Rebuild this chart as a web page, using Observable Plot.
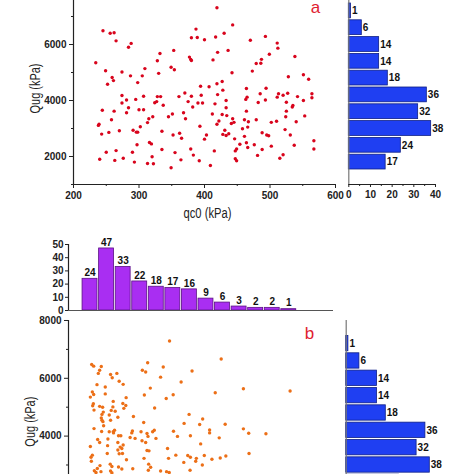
<!DOCTYPE html>
<html>
<head>
<meta charset="utf-8">
<script src="https://cdn.jsdelivr.net/npm/d3@7"></script>
<script src="https://cdn.jsdelivr.net/npm/@observablehq/plot@0.6"></script>
<style>
  html, body { margin: 0; padding: 0; background: #fff; }
  #fig { position: relative; width: 474px; height: 474px; overflow: hidden; background: #fff; }
  #fig > div { position: absolute; }
</style>
</head>
<body>
<div id="fig"></div>
<script>
// ---- Panel a: measured qc0 vs Qug (kPa) ----
const qc0A = [
  245,256,262,265,288,284,387,380,389,400,353,332,328,377,379,380,234,249,274,309,
  349,354,330,287,259,261,305,298,252,394,407,370,
  419,443,417,430,420,436,413,470,493,511,512,499,487,479,486,538,442,473,528,551,
  559,419,427,428,464,494,
  274,307,328,333,380,395,274,281,295,284,281,324,327,337,300,307,244,262,361,375,
  382,390,397,368,351,345,321,315,313,258,239,238,371,393,302,291,296,298,270,254,
  243,335,352,362,365,403,400,297,316,319,335,355,379,383,392,364,250,265,290,320,
  240,263,276,293,313,322,349,409,
  420,465,463,485,513,520,527,511,493,482,542,564,564,551,525,535,534,416,433,433,
  412,427,434,464,525,524,553,443,441,445,422,419,461,467,479,502,510,540,466,458,
  431,428,433,437,488,495,498,523,531,461,446,464,454,476,567,466,502,537,449,447,
  488,567,415,481,520,515,447,449
];
const qugA = [
  6490,6400,6420,6130,6040,5900,6550,6240,6250,6170,5790,5680,5420,5550,5470,5430,5350,5060,5020,5140,
  5190,5100,4970,4880,4820,4710,4880,4640,4580,4510,4490,4270,
  7310,6700,6270,6400,5720,5790,5450,6150,6290,6050,5870,5650,5470,5320,5330,5570,4990,5050,4850,4920,
  4760,4600,4680,4370,4430,4440,
  4180,4150,4140,4140,4150,4190,3910,4020,4040,3740,3560,3920,3960,3830,3670,3670,3650,3620,4140,3960,
  3770,3910,3910,3560,3520,3420,3420,3350,3210,3310,3150,3110,3350,3080,3060,2940,2870,2870,2920,2860,
  2800,2900,2770,2830,2650,2770,2620,2420,2500,2450,2250,2140,2270,2050,1850,1880,2150,2210,2150,1990,
  1900,1860,1940,1800,1750,1740,1600,1680,
  4210,4120,4040,4240,4240,4190,4260,4120,4020,3930,4140,4240,4100,4000,3940,3820,3770,3880,4000,3740,
  3520,3500,3460,3620,3620,3420,3450,3350,3180,3220,3270,3150,3310,3240,3310,3220,3260,3240,3050,2990,
  2940,2790,2750,2810,2850,2770,2740,2960,2770,2720,2630,2490,2440,2420,2560,2320,2370,2400,2270,2200,
  2250,2270,2200,2040,2060,1940,1920,1850
];

// ---- Panel b: qc0 vs Qug (kPa) ----
const qc0B = [
  465,621,230,236,259,399,383,393,446,533,254,250,287,292,306,313,325,438,500,246,
  271,407,232,236,271,226,389,455,476,603,688,829,295,294,334,333,235,233,237,254,
  263,420,289,301,327,324,283,265,261,259,264,266,261,287,309,356,387,524,509,556,
  565,633,237,260,283,295,299,296,311,318,353,351,346,361,379,397,400,414,419,424,
  477,489,528,586,586,615,688,704,756,248,254,279,278,226,309,316,321,325,309,313,
  323,382,393,397,403,388,459,484,520,528,546,544,559,570,593,618,635,705,232,228,
  229,277,335,286,291,255,247,238,243,258,311,321,287,291,354,402,408,401,438,456,
  464,508,527,564,462
];
const qugB = [
  7290,6670,6480,6420,6410,6540,6280,6220,6390,6250,6280,6170,6130,6020,6170,5900,5790,6040,5870,5780,
  5700,5660,5530,5440,5460,5350,5420,5300,5430,5500,5640,5560,5200,5010,5330,5060,5120,5050,4900,5030,
  5000,4970,4890,4860,4960,5130,4730,4830,4750,4630,4500,4360,4550,4550,4650,4680,4470,4750,4440,4400,
  4590,4410,4260,4160,4150,4150,4200,4110,4010,4010,4180,4110,3950,3920,4150,4090,3990,4150,4200,3920,
  4170,3990,4010,4210,4110,3940,4250,4100,4080,3880,3780,3900,3670,3640,3780,3620,3570,3690,3520,3390,
  3400,3840,3780,3500,3490,3230,3570,3340,3330,3270,3230,3130,3730,3330,3200,3240,3310,3400,3340,3270,
  3130,3400,3180,3030,2950,2980,2880,2800,2740,2770,2930,2860,2790,2730,2870,3030,2920,2820,2790,2770,
  2740,3090,2820,3000,3230
];

// ---- Histograms (counts per bin) ----
const qugEdges  = [1500, 2100, 2700, 3300, 3900, 4500, 5100, 5700, 6300, 6900, 7500];
const qugCounts = [17, 24, 38, 32, 36, 18, 14, 14, 6, 1];
const qcEdges   = [200, 250, 300, 350, 400, 450, 500, 550, 600, 650, 700, 750, 800, 850];
const qcCounts  = [24, 47, 33, 22, 18, 17, 16, 9, 6, 3, 2, 2, 1];

// ---- Axis ticks ----
const qcTicksA    = [200, 300, 400, 500, 600];
const qcMinorA    = [250, 350, 450, 550];
const qugTicks    = [2000, 4000, 6000, 8000];
const qugMinor    = [1000, 3000, 5000, 7000];
const countTicks  = [0, 10, 20, 30, 40];
const countMinor  = [5, 15, 25, 35];
const histTicks   = [0, 10, 20, 30, 40, 50];

const axisLabelX = "qc0 (kPa)";
const axisLabelY = "Qug (kPa)";

// ---- Tables built from the arrays ----
const ptsA = qc0A.map((q, i) => ({qc: q, qug: qugA[i]}));
const ptsB = qc0B.map((q, i) => ({qc: q, qug: qugB[i]}));
const qugBins = qugCounts.map((c, i) => ({lo: qugEdges[i], hi: qugEdges[i + 1], mid: (qugEdges[i] + qugEdges[i + 1]) / 2, count: c}));
const qcBins  = qcCounts.map((c, i) => ({lo: qcEdges[i], hi: qcEdges[i + 1], mid: (qcEdges[i] + qcEdges[i + 1]) / 2, count: c}));

// ---- Styling ----
const SANS   = '"Liberation Sans", Arial, Helvetica, sans-serif';
const AXIS   = "#222";
const RED    = "#d8041c";
const ORANGE = "#ec6f17";
const BLUE   = "#1f3ff2";
const BLUE_EDGE = "#0e1f86";
const PURPLE = "#a92ef2";
const PURPLE_EDGE = "#5b1284";
const TAG    = "#e01c30";
const plain  = d => String(d);

const baseStyle = {fontFamily: SANS, background: "transparent", overflow: "visible"};
const fig = document.getElementById("fig");
function place(svg, left, top) {
  const d = document.createElement("div");
  d.style.left = left + "px";
  d.style.top = top + "px";
  d.append(svg);
  fig.append(d);
  return svg;
}
// axis titles use a condensed face: squeeze them to their measured length
function condense(svg, text, length) {
  d3.select(svg).selectAll("text").filter(function () { return this.textContent === text; })
    .attr("textLength", length).attr("lengthAdjust", "spacingAndGlyphs");
}
const bold = {fontWeight: "bold", fontSize: 10, color: AXIS, label: null};
const titleStyle = {fontSize: 14, fill: "#222", textAnchor: "middle", lineAnchor: "middle"};

// Panel a scatter
const svgA = place(Plot.plot({
  width: 345, height: 261,
  marginLeft: 73, marginRight: 10, marginTop: 20, marginBottom: 45,
  style: baseStyle,
  x: {domain: [200, 600], axis: null},
  y: {domain: [1000, 8000], axis: null},
  marks: [
    Plot.ruleX([200], {stroke: AXIS, strokeWidth: 1.2}),
    Plot.ruleY([1000], {stroke: AXIS, strokeWidth: 1.2}),
    Plot.axisX({...bold, ticks: qcTicksA, tickSize: 4, tickPadding: 3, tickFormat: plain}),
    Plot.axisX({...bold, ticks: qcMinorA, tickSize: 2, tickFormat: () => ""}),
    Plot.axisY({...bold, ticks: qugTicks, tickSize: 4, tickPadding: 3, tickFormat: plain}),
    Plot.axisY({...bold, ticks: qugMinor, tickSize: 2, tickFormat: () => ""}),
    Plot.dot(ptsA, {x: "qc", y: "qug", r: 1.7, fill: RED}),
    Plot.text([axisLabelY], {...titleStyle, frameAnchor: "left", dx: -38, dy: 2, rotate: -90}),
    Plot.text([axisLabelX], {...titleStyle, frameAnchor: "bottom", dy: 29, dx: 3}),
    Plot.text(["a"], {frameAnchor: "top-right", dx: -20, dy: 19, fontSize: 17, fill: TAG, textAnchor: "middle", lineAnchor: "middle"})
  ]
}), 0, -32.3);
condense(svgA, axisLabelY, 50);
condense(svgA, axisLabelX, 48);

// Panel a side histogram (Qug bins)
place(Plot.plot({
  width: 134, height: 261,
  marginLeft: 8.3, marginRight: 39, marginTop: 20, marginBottom: 45,
  style: baseStyle,
  x: {domain: [0, 40], axis: null},
  y: {domain: [1000, 8000], axis: null},
  marks: [
    Plot.rect(qugBins, {x1: 0, x2: "count", y1: "lo", y2: "hi", insetTop: 1, insetBottom: 1, fill: BLUE, stroke: BLUE_EDGE, strokeWidth: 0.8}),
    Plot.ruleX([0], {stroke: "#777", strokeWidth: 1.2}),
    Plot.ruleY([1000], {stroke: AXIS, strokeWidth: 1.2}),
    Plot.axisX({...bold, ticks: countTicks, tickSize: 3, tickPadding: 3, tickFormat: plain}),
    Plot.axisX({...bold, ticks: countMinor, tickSize: 2, tickFormat: () => ""}),
    Plot.text(qugBins, {x: "count", y: "mid", text: d => String(d.count), textAnchor: "start", dx: 1, fontWeight: "bold", fontSize: 10, fill: "#111"})
  ]
}), 340, -32.3);

// Panel b top histogram (qc0 bins)
place(Plot.plot({
  width: 343, height: 91,
  marginLeft: 68, marginRight: 10, marginTop: 20, marginBottom: 5,
  style: baseStyle,
  x: {domain: [160, 960], axis: null},
  y: {domain: [0, 50], axis: null},
  marks: [
    Plot.rect(qcBins, {x1: "lo", x2: "hi", y1: 0, y2: "count", insetLeft: 0.8, insetRight: 0.8, fill: PURPLE, stroke: PURPLE_EDGE, strokeWidth: 0.8}),
    Plot.ruleX([160], {stroke: AXIS, strokeWidth: 1.2}),
    Plot.ruleY([0], {stroke: "#555", strokeWidth: 1.2}),
    Plot.axisY({...bold, ticks: histTicks, tickSize: 3, tickPadding: 2, tickFormat: plain}),
    Plot.text(qcBins, {x: "mid", y: "count", text: d => String(d.count), dy: -6, fontWeight: "bold", fontSize: 10, fill: "#111"})
  ]
}), 0, 224);

// Panel b scatter
const svgB = place(Plot.plot({
  width: 343, height: 242.3,
  marginLeft: 68, marginRight: 10, marginTop: 20, marginBottom: 20,
  style: baseStyle,
  x: {domain: [160, 960], axis: null},
  y: {domain: [1000, 8000], axis: null},
  marks: [
    Plot.ruleX([160], {stroke: AXIS, strokeWidth: 1.2}),
    Plot.ruleY([1000], {stroke: AXIS, strokeWidth: 1.2}),
    Plot.axisY({...bold, ticks: qugTicks, tickSize: 4, tickPadding: 3, tickFormat: plain}),
    Plot.axisY({...bold, ticks: qugMinor, tickSize: 2, tickFormat: () => ""}),
    Plot.dot(ptsB, {x: "qc", y: "qug", r: 1.7, fill: ORANGE}),
    Plot.text([axisLabelY], {...titleStyle, frameAnchor: "left", dx: -38, rotate: -90}),
    Plot.text(["b"], {frameAnchor: "top-right", dx: -24, dy: 13, fontSize: 17, fill: TAG, textAnchor: "middle", lineAnchor: "middle"})
  ]
}), 0, 300);
condense(svgB, axisLabelY, 50);

// Panel b side histogram (Qug bins)
place(Plot.plot({
  width: 134, height: 242.3,
  marginLeft: 5.7, marginRight: 40.3, marginTop: 20, marginBottom: 20,
  style: baseStyle,
  x: {domain: [0, 40], axis: null},
  y: {domain: [1000, 8000], axis: null},
  marks: [
    Plot.rect(qugBins, {x1: 0, x2: "count", y1: "lo", y2: "hi", insetTop: 1, insetBottom: 1, fill: BLUE, stroke: BLUE_EDGE, strokeWidth: 0.8}),
    Plot.ruleX([0], {stroke: "#777", strokeWidth: 1.2}),
    Plot.ruleY([1000], {stroke: AXIS, strokeWidth: 1.2}),
    Plot.axisX({...bold, ticks: countTicks, tickSize: 3, tickPadding: 3, tickFormat: plain}),
    Plot.text(qugBins, {x: "count", y: "mid", text: d => String(d.count), textAnchor: "start", dx: 1, fontWeight: "bold", fontSize: 10, fill: "#111"})
  ]
}), 340, 300);
</script>
</body>
</html>
